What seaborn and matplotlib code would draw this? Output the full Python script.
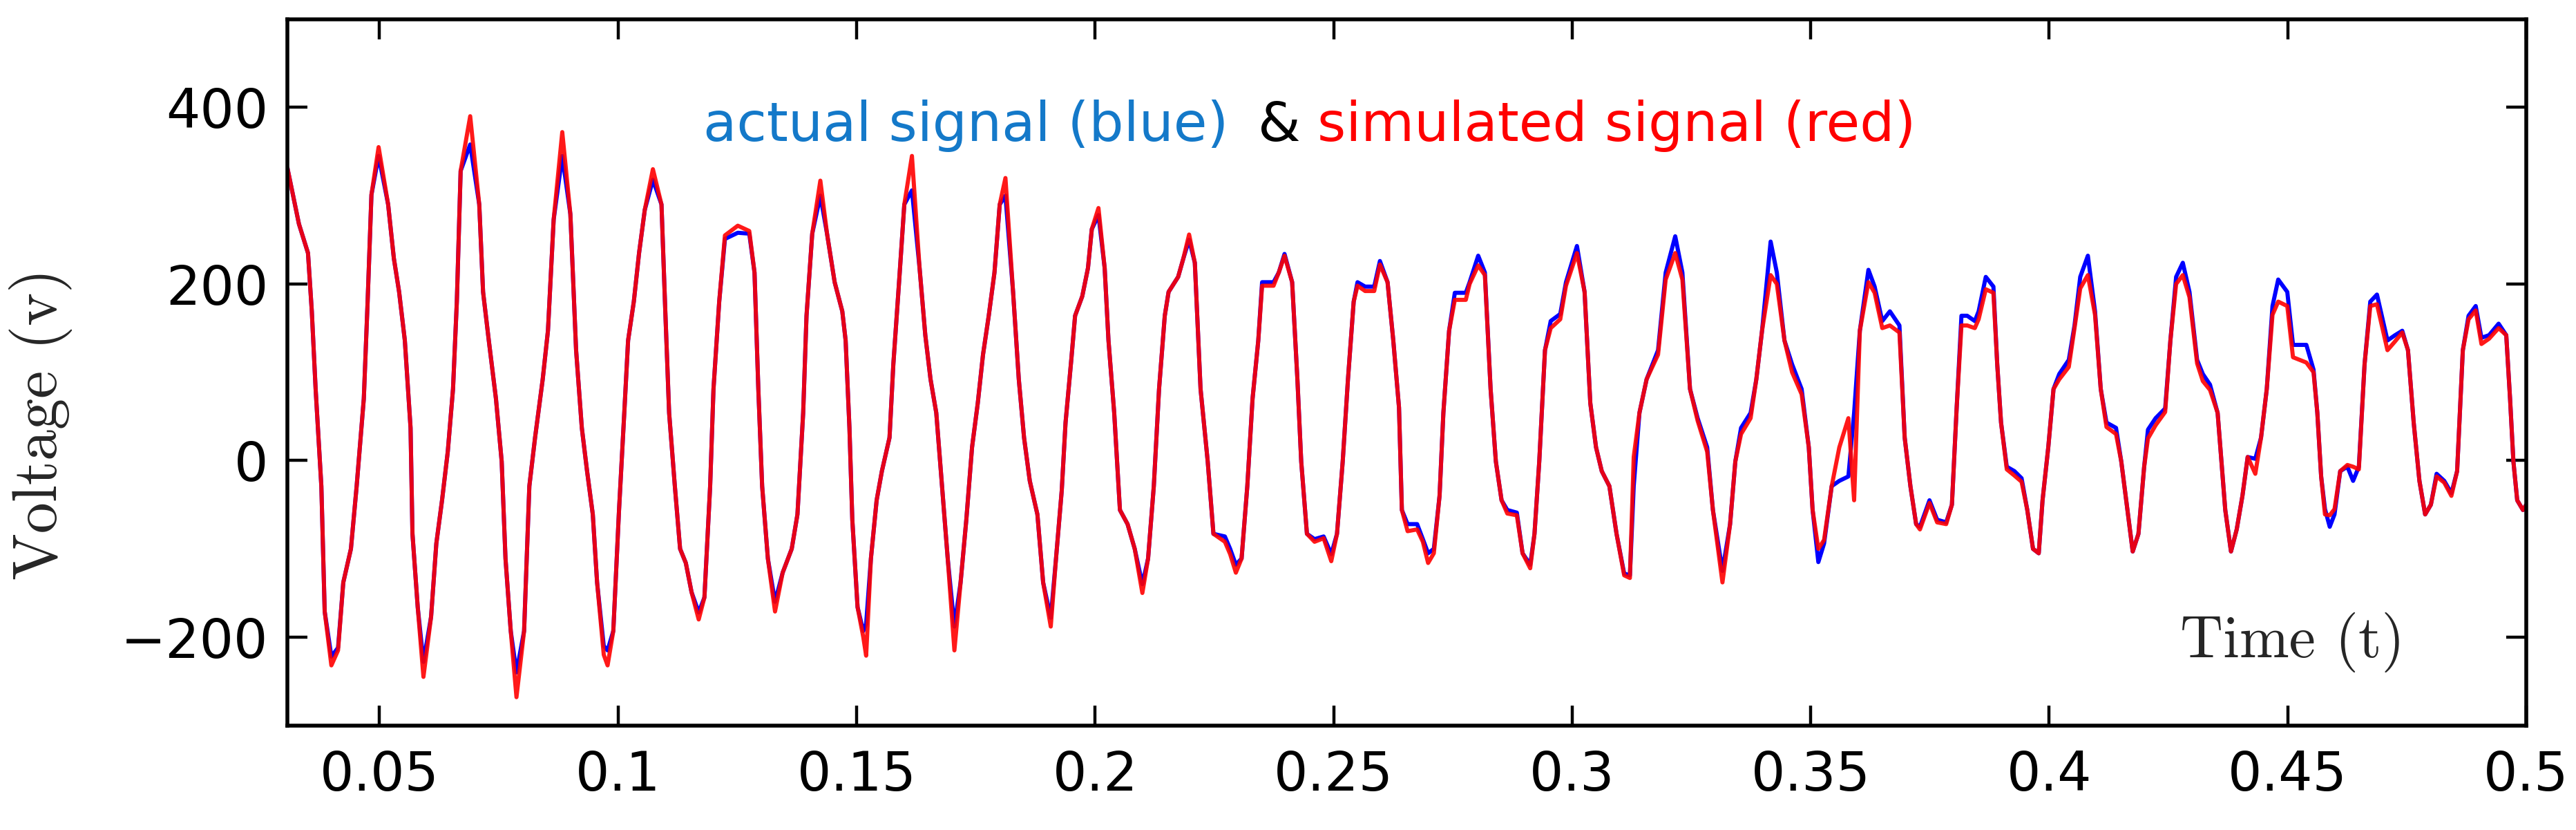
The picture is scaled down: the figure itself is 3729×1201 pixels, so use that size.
import pandas as pd
import seaborn as sns
import matplotlib.pyplot as plt

# values, time in s, voltage in V
time = [
    0.0307, 0.0331, 0.0350, 0.0358, 0.0366, 0.0378, 0.0385, 0.0399, 0.0413, 0.0424,
    0.0440, 0.0452, 0.0467, 0.0475, 0.0483, 0.0498, 0.0518, 0.0530, 0.0541, 0.0553,
    0.0565, 0.0569, 0.0580, 0.0592, 0.0608, 0.0619, 0.0631, 0.0643, 0.0654, 0.0662,
    0.0670, 0.0690, 0.0709, 0.0717, 0.0729, 0.0744, 0.0756, 0.0764, 0.0775, 0.0787,
    0.0803, 0.0814, 0.0826, 0.0842, 0.0853, 0.0865, 0.0883, 0.0900, 0.0912, 0.0924,
    0.0935, 0.0947, 0.0956, 0.0970, 0.0978, 0.0990, 0.1002, 0.1013, 0.1021, 0.1033,
    0.1044, 0.1056, 0.1073, 0.1091, 0.1099, 0.1107, 0.1119, 0.1130, 0.1142, 0.1154,
    0.1169, 0.1181, 0.1193, 0.1200, 0.1212, 0.1224, 0.1251, 0.1275, 0.1286, 0.1294,
    0.1302, 0.1314, 0.1329, 0.1345, 0.1364, 0.1376, 0.1388, 0.1395, 0.1407, 0.1424,
    0.1438, 0.1454, 0.1470, 0.1477, 0.1485,
    0.1491, 0.1502, 0.1514, 0.1520, 0.1530, 0.1542, 0.1553, 0.1569, 0.1577, 0.1589,
    0.1600, 0.1616, 0.1632, 0.1644, 0.1655, 0.1667, 0.1679, 0.1691, 0.1705, 0.1718,
    0.1730, 0.1742, 0.1754, 0.1765, 0.1777, 0.1789, 0.1800, 0.1812, 0.1828, 0.1840,
    0.1851, 0.1863, 0.1879, 0.1891, 0.1907, 0.1918, 0.1930, 0.1938, 0.1950, 0.1958,
    0.1973, 0.1985, 0.1993, 0.2007, 0.2020, 0.2028, 0.2040, 0.2052, 0.2068, 0.2083,
    0.2099, 0.2111, 0.2123, 0.2134, 0.2146, 0.2154, 0.2174, 0.2185, 0.2197, 0.2209,
    0.2221, 0.2236, 0.2248, 0.2272, 0.2283, 0.2295, 0.2307, 0.2319, 0.2330, 0.2342,
    0.2350, 0.2374, 0.2385, 0.2397, 0.2413, 0.2424, 0.2432, 0.2444, 0.2460, 0.2479,
    0.2495, 0.2507, 0.2519, 0.2530, 0.2542, 0.2550, 0.2566, 0.2585, 0.2597, 0.2613,
    0.2625,
    0.2637, 0.2643, 0.2655, 0.2675, 0.2687, 0.2698, 0.2710, 0.2722, 0.2730, 0.2742,
    0.2754, 0.2777, 0.2785, 0.2803, 0.2817, 0.2829, 0.2840, 0.2852, 0.2864, 0.2884,
    0.2896, 0.2912, 0.2921, 0.2931, 0.2943, 0.2955, 0.2975, 0.2987, 0.3010, 0.3026,
    0.3038, 0.3050, 0.3062, 0.3078, 0.3093, 0.3109, 0.3121, 0.3129, 0.3141, 0.3156,
    0.3180, 0.3196, 0.3216, 0.3231, 0.3247, 0.3263, 0.3283, 0.3295, 0.3315, 0.3331,
    0.3342, 0.3354, 0.3374, 0.3386, 0.3398, 0.3416, 0.3429, 0.3445, 0.3461, 0.3481,
    0.3496, 0.3504, 0.3516, 0.3528, 0.3544, 0.3560, 0.3579, 0.3591, 0.3603, 0.3621,
    0.3634, 0.3650, 0.3666, 0.3686, 0.3697, 0.3709, 0.3721, 0.3729, 0.3749, 0.3765,
    0.3784, 0.3796,
    0.3806, 0.3816, 0.3828, 0.3844, 0.3852, 0.3867, 0.3883, 0.3891, 0.3899, 0.3911,
    0.3927, 0.3942, 0.3954, 0.3966, 0.3978, 0.3986, 0.3998, 0.4009, 0.4021, 0.4041,
    0.4053, 0.4065, 0.4081, 0.4096, 0.4108, 0.4120, 0.4140, 0.4151, 0.4164, 0.4175,
    0.4187, 0.4199, 0.4207, 0.4223, 0.4243, 0.4254, 0.4266, 0.4280, 0.4294, 0.4310,
    0.4322, 0.4337, 0.4353, 0.4369, 0.4381, 0.4393, 0.4405, 0.4416, 0.4432, 0.4444,
    0.4456, 0.4468, 0.4480, 0.4499, 0.4511, 0.4539, 0.4554, 0.4562, 0.4570, 0.4578,
    0.4588, 0.4598, 0.4610, 0.4625, 0.4637, 0.4649, 0.4661, 0.4673, 0.4687, 0.4709,
    0.4725, 0.4740, 0.4752, 0.4764, 0.4776, 0.4788, 0.4800, 0.4812, 0.4828, 0.4843,
    0.4855, 0.4867, 0.4879, 0.4894, 0.4906, 0.4922, 0.4942, 0.4958, 0.4966, 0.4973,
    0.4981, 0.4993, 0.5000,
]

actual = [
    331, 268, 235, 169, 81, -29, -171, -222, -212, -138,
    -100, -29, 70, 180, 301, 345, 290, 229, 191, 136,
    37, -83, -166, -228, -177, -94, -45, 10, 81, 180,
    328, 358, 290, 191, 136, 70, -1, -111, -193, -240,
    -193, -29, 26, 92, 147, 273, 345, 279, 125, 37,
    -12, -61, -138, -210, -215, -193, -56, 54, 136, 180,
    235, 284, 318, 290, 169, 54, -29, -100, -116, -149,
    -172, -155, -29, 81, 180, 251, 258, 257, 213, 81,
    -29, -111, -160, -127, -100, -61, 54, 164, 257, 300,
    257, 202, 169, 136, 37,
    -67, -166, -193, -185, -111, -45, -12, 26, 109, 202,
    290, 306, 218, 142, 92, 54, -29, -111, -188, -138,
    -67, 15, 65, 120, 164, 213, 290, 300, 191, 92,
    26, -23, -61, -138, -178, -111, -34, 43, 114, 164,
    186, 218, 262, 278, 218, 136, 54, -56, -72, -100,
    -140, -111, -29, 81, 164, 191, 208, 229, 250, 224,
    81, -1, -83, -86, -100, -118, -111, -29, 70, 136,
    202, 202, 213, 234, 202, 92, -1, -83, -89, -86,
    -106, -83, -1, 92, 180, 202, 197, 197, 226, 202,
    136,
    60, -56, -72, -72, -89, -105, -100, -40, 54, 147,
    190, 190, 202, 232, 213, 81, -1, -45, -56, -59,
    -105, -118, -83, -1, 125, 158, 166, 202, 243, 191,
    65, 15, -12, -29, -83, -128, -130, -29, 54, 92,
    125, 213, 254, 213, 81, 48, 15, -56, -125, -72,
    -1, 37, 54, 92, 147, 248, 213, 136, 109, 81,
    15, -56, -115, -94, -29, -23, -18, 54, 147, 216,
    197, 158, 169, 153, 26, -29, -72, -75, -45, -67,
    -70, -50,
    60, 164, 164, 158, 169, 208, 197, 109, 43, -7,
    -12, -20, -56, -100, -105, -45, 15, 81, 98, 114,
    153, 208, 232, 169, 81, 43, 37, -1, -56, -103,
    -83, -7, 35, 48, 59, 136, 208, 224, 191, 114,
    98, 86, 54, -56, -103, -78, -40, 4, 2, 26,
    81, 175, 205, 191, 131, 131, 103, 54, -18, -55,
    -75, -61, -12, -7, -23, -7, 109, 180, 188, 136,
    142, 147, 125, 43, -23, -61, -50, -15, -23, -37,
    -12, 125, 164, 175, 139, 142, 155, 142, 70, -1,
    -45, -56, -50,
]

simulated = [
    331, 268, 235, 169, 81, -29, -171, -232, -215, -138,
    -100, -29, 70, 180, 301, 355, 290, 229, 191, 136,
    37, -83, -166, -245, -177, -94, -45, 10, 81, 180,
    328, 390, 290, 191, 136, 70, -1, -111, -193, -268,
    -193, -29, 26, 92, 147, 273, 372, 279, 125, 37,
    -12, -61, -138, -220, -232, -193, -56, 54, 136, 180,
    235, 284, 330, 290, 169, 54, -29, -100, -116, -149,
    -180, -155, -29, 81, 180, 255, 266, 260, 213, 81,
    -29, -111, -171, -127, -100, -61, 54, 164, 257, 317,
    257, 202, 169, 136, 37,
    -67, -166, -200, -221, -111, -45, -12, 26, 109, 202,
    290, 345, 218, 142, 92, 54, -29, -111, -215, -138,
    -67, 15, 65, 120, 164, 213, 290, 320, 191, 92,
    26, -23, -61, -138, -188, -111, -34, 43, 114, 164,
    186, 218, 262, 286, 218, 136, 54, -56, -72, -100,
    -150, -111, -29, 81, 164, 191, 208, 229, 256, 224,
    81, -1, -83, -92, -106, -127, -111, -29, 70, 136,
    198, 198, 213, 232, 202, 92, -1, -83, -92, -88,
    -114, -83, -1, 92, 180, 198, 192, 192, 222, 202,
    136,
    60, -56, -80, -78, -92, -116, -105, -40, 54, 147,
    182, 182, 200, 221, 210, 81, -1, -45, -60, -62,
    -105, -122, -83, -1, 125, 150, 160, 198, 235, 191,
    65, 15, -12, -29, -83, -130, -133, 4, 54, 92,
    120, 205, 235, 205, 81, 45, 10, -56, -138, -72,
    -1, 30, 48, 92, 147, 210, 200, 136, 100, 75,
    15, -56, -100, -90, -29, 15, 48, -45, 147, 202,
    190, 150, 153, 145, 26, -29, -72, -78, -48, -70,
    -72, -50,
    60, 153, 153, 150, 160, 194, 190, 109, 43, -10,
    -17, -24, -56, -100, -105, -45, 15, 81, 92, 106,
    150, 195, 210, 165, 81, 38, 30, -1, -56, -103,
    -83, -7, 25, 40, 55, 136, 200, 210, 185, 110,
    90, 80, 54, -56, -103, -78, -40, 4, -15, 26,
    81, 165, 180, 175, 117, 111, 100, 54, -18, -61,
    -62, -55, -12, -5, -7, -10, 109, 175, 177, 125,
    135, 145, 125, 43, -23, -61, -50, -18, -25, -40,
    -12, 125, 160, 170, 132, 138, 150, 142, 70, -1,
    -45, -56, -50,
]

x_ticks = [0.05, 0.1, 0.15, 0.2, 0.25, 0.3, 0.35, 0.4, 0.45, 0.5]
x_tick_labels = ["0.05", "0.1", "0.15", "0.2", "0.25", "0.3", "0.35", "0.4", "0.45", "0.5"]
y_ticks = [-200, 0, 200, 400]

df = pd.DataFrame({"t": time, "actual": actual, "simulated": simulated})

sns.set_style("ticks")
plt.rcParams["font.family"] = ["DejaVu Sans"]

fig, ax = plt.subplots(figsize=(37.29, 12.01), dpi=100)
fig.subplots_adjust(left=0.1116, right=0.9807, bottom=0.126, top=0.977)

sns.lineplot(data=df, x="t", y="actual", color="blue", lw=4.3,
             estimator=None, sort=False, ax=ax)
sns.lineplot(data=df, x="t", y="simulated", color="red", lw=4.3, alpha=0.9,
             estimator=None, sort=False, ax=ax)

ax.set_xlim(0.0307, 0.5)
ax.set_ylim(-300, 500)
ax.set_xticks(x_ticks)
ax.set_xticklabels(x_tick_labels)
ax.set_yticks(y_ticks)
ax.tick_params(direction="in", length=21, width=3.2, top=True, right=True,
               labelsize=56, colors="black")
ax.tick_params(axis="x", pad=25)
ax.tick_params(axis="y", pad=20)
for s in ax.spines.values():
    s.set_linewidth(4)
    s.set_color("black")

ax.set_xlabel("")
ax.set_ylabel("Voltage (v)", family="cmr10", fontsize=65)
ax.yaxis.set_label_coords(-0.096, 0.4266)

ax.text(0.228, 362, "actual signal (blue)", color="#1479c9", ha="right",
        va="baseline", fontsize=57)
ax.text(0.2386, 362, "&", color="black", ha="center", va="baseline", fontsize=57)
ax.text(0.2466, 362, "simulated signal (red)", color="red", ha="left",
        va="baseline", fontsize=57)
ax.text(0.451, -223, "Time (t)", family="cmr10", fontsize=62, ha="center",
        va="baseline")

fig.savefig("out.png", dpi=100)
